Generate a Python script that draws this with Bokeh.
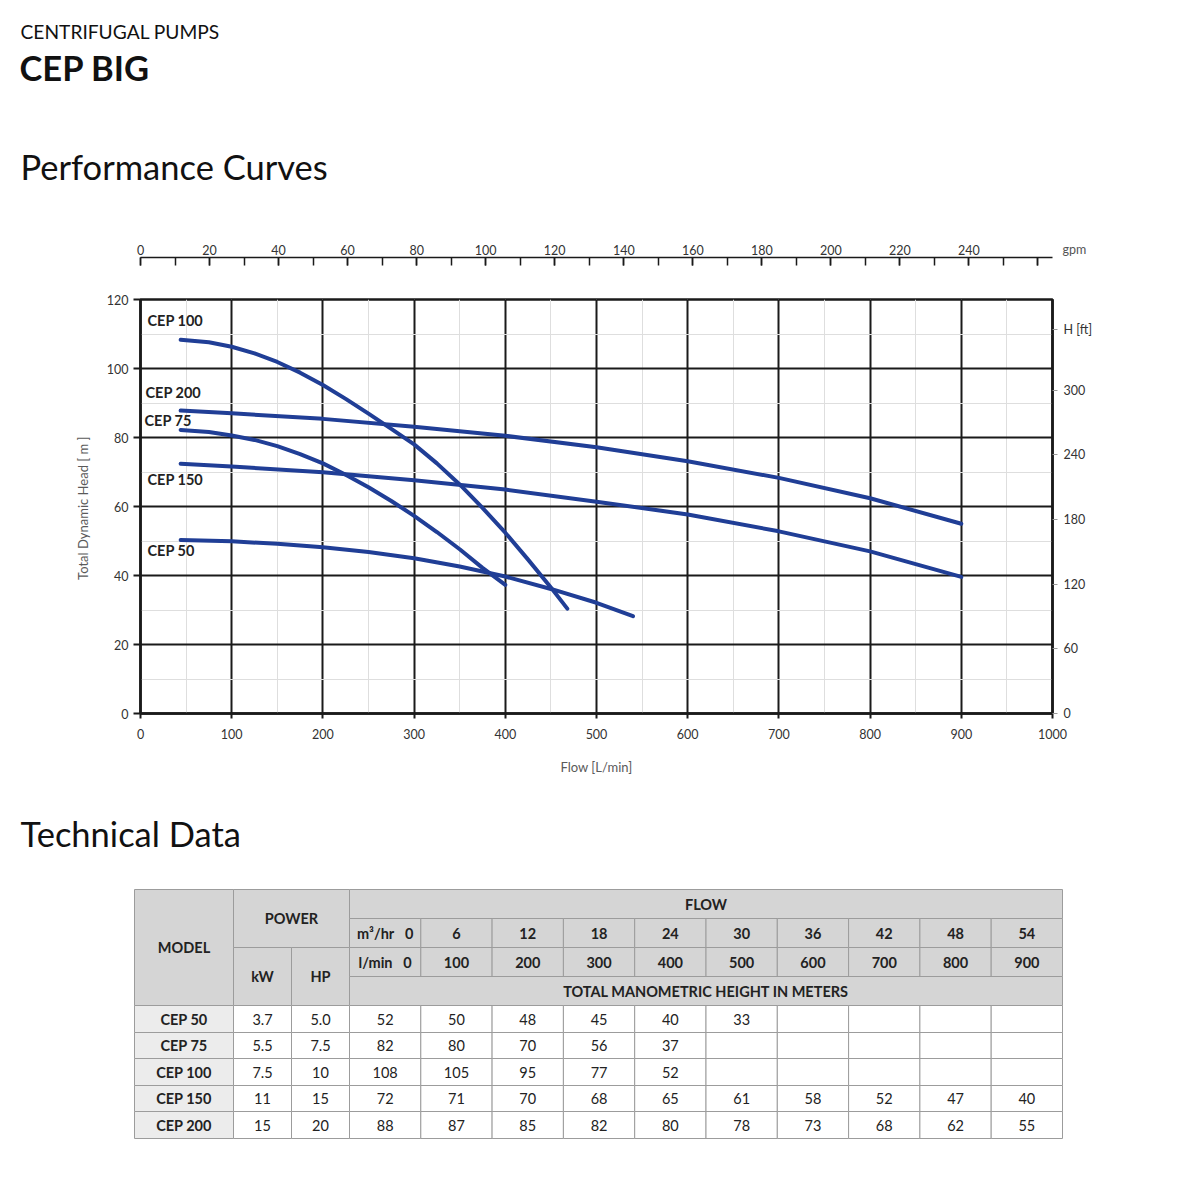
from bokeh.plotting import figure
from bokeh.models import Range1d, LinearAxis, SingleIntervalTicker, FixedTicker
from bokeh.core.properties import value
from bokeh.embed import file_html
from bokeh.resources import INLINE

FONT = "Lato"
BLUE = "#203e96"
DARK = "#1a1a1a"

# ---------------- data ----------------
models = ["CEP 50", "CEP 75", "CEP 100", "CEP 150", "CEP 200"]

cep50_flow = [44, 100, 150, 200, 250, 300, 350, 400, 450, 500, 540]
cep50_head = [50.3, 49.9, 49.2, 48.2, 46.8, 45.0, 42.6, 39.7, 36.1, 32.1, 28.2]

cep75_flow = [44, 75, 100, 125, 150, 175, 200, 225, 250, 275, 300, 325, 350, 375, 400]
cep75_head = [82.2, 81.6, 80.6, 79.3, 77.5, 75.2, 72.5, 69.2, 65.6, 61.6, 57.3, 52.6, 47.6, 42.2, 37.3]

cep100_flow = [44, 75, 100, 125, 150, 175, 200, 225, 250, 275, 300, 325, 350, 375, 400, 425, 450, 468]
cep100_head = [108.3, 107.6, 106.3, 104.4, 101.9, 98.8, 95.2, 91.2, 86.9, 82.5, 78.0, 72.5, 66.4,
               59.6, 52.4, 44.6, 36.5, 30.4]

cep150_flow = [44, 100, 200, 300, 400, 500, 600, 700, 800, 900]
cep150_head = [72.4, 71.6, 69.9, 67.6, 64.9, 61.4, 57.7, 52.8, 47.0, 39.6]

cep200_flow = [44, 100, 200, 300, 400, 500, 600, 700, 800, 900]
cep200_head = [87.8, 87.0, 85.4, 83.1, 80.5, 77.2, 73.1, 68.3, 62.4, 55.0]

curve_label_names = ["CEP 100", "CEP 200", "CEP 75", "CEP 150", "CEP 50"]
curve_label_x = [7.7, 5.5, 4.4, 7.7, 7.7]
curve_label_y = [113.9, 93.0, 84.9, 67.8, 47.2]

L_PER_GAL = 3.785
FT_PER_M = 3.2
ft_ticks = [0, 60, 120, 180, 240, 300]
ft_title_pos = 356

# table data
table_kw = ["3.7", "5.5", "7.5", "11", "15"]
table_hp = ["5.0", "7.5", "10", "15", "20"]
table_m3h = ["m³/hr\u2002 0", "6", "12", "18", "24", "30", "36", "42", "48", "54"]
table_lmin = ["l/min\u2002 0", "100", "200", "300", "400", "500", "600", "700", "800", "900"]
table_heads = [
    ["52", "50", "48", "45", "40", "33", "", "", "", ""],
    ["82", "80", "70", "56", "37", "", "", "", "", ""],
    ["108", "105", "95", "77", "52", "", "", "", "", ""],
    ["72", "71", "70", "68", "65", "61", "58", "52", "47", "40"],
    ["88", "87", "85", "82", "80", "78", "73", "68", "62", "55"],
]

# ---------------- header ----------------
head = figure(width=1200, height=225, x_range=Range1d(0, 1200), y_range=Range1d(225, 0),
              x_axis_type=None, y_axis_type=None, output_backend="svg", toolbar_location=None,
              min_border=0)
head.outline_line_color = None
head.grid.visible = False
head.text(x=[20], y=[31], text=["CENTRIFUGAL PUMPS"], text_font=value(FONT), text_font_size="19.2px",
          text_baseline="middle", text_color="#111111")
head.text(x=[19], y=[67], text=["CEP BIG"], text_font=value(FONT), text_font_size="34.5px",
          text_font_style="bold", text_baseline="middle", text_color="#111111")
head.text(x=[20], y=[166], text=["Performance Curves"], text_font=value(FONT), text_font_size="34.5px",
          text_baseline="middle", text_color="#111111")

# ---------------- gpm axis strip ----------------
GMAX = 1000 / L_PER_GAL
GP_K = GMAX / 912.0
gp = figure(width=1200, height=65, x_range=Range1d(-140 * GP_K, 1060 * GP_K), y_range=Range1d(65, 0),
            x_axis_type=None, y_axis_type=None, output_backend="svg", toolbar_location=None,
            min_border=0)
gp.outline_line_color = None
gp.grid.visible = False
gax = LinearAxis(ticker=SingleIntervalTicker(interval=20, num_minor_ticks=2), fixed_location=32,
                 bounds=(0, GMAX), major_label_overrides={260: ""})
gax.major_tick_in = 8
gax.major_tick_out = 0
gax.minor_tick_in = 8
gax.minor_tick_out = 0
gax.axis_line_color = DARK
gax.axis_line_width = 1.5
gax.major_tick_line_color = DARK
gax.major_tick_line_width = 1.5
gax.minor_tick_line_color = DARK
gax.minor_tick_line_width = 1.5
gax.major_label_standoff = 3
gax.major_label_text_font = FONT
gax.major_label_text_font_size = "12.5px"
gax.major_label_text_color = "#333333"
gp.add_layout(gax, "above")
gp.text(x=[(1062 - 140) * GP_K], y=[24], text=["gpm"], text_font=value(FONT),
        text_font_size="12.5px", text_color="#555555", text_baseline="middle", text_align="left")

# ---------------- main chart ----------------
p = figure(width=1200, height=500, x_range=Range1d(0, 1000), y_range=Range1d(0, 120),
           output_backend="svg", toolbar_location=None,
           min_border_left=140, min_border_right=148, min_border_top=9, min_border_bottom=77)
p.outline_line_color = DARK
p.outline_line_width = 2.5
p.xaxis.ticker = SingleIntervalTicker(interval=100, num_minor_ticks=2)
p.yaxis.ticker = SingleIntervalTicker(interval=20, num_minor_ticks=2)
p.grid.grid_line_color = DARK
p.grid.grid_line_width = 2
p.grid.minor_grid_line_color = "#dedede"
p.grid.minor_grid_line_width = 1

for ax in (p.xaxis[0], p.yaxis[0]):
    ax.axis_line_color = DARK
    ax.axis_line_width = 2.5
    ax.major_tick_line_color = DARK
    ax.major_tick_line_width = 2
    ax.major_tick_in = 0
    ax.minor_tick_line_color = None
    ax.major_label_text_font = FONT
    ax.major_label_text_font_size = "12.5px"
    ax.major_label_text_color = "#333333"
    ax.axis_label_text_font = FONT
    ax.axis_label_text_font_size = "13px"
    ax.axis_label_text_font_style = "normal"
    ax.axis_label_text_color = "#5a5a5a"

p.xaxis.axis_label = "Flow [L/min]"
p.xaxis.major_tick_out = 5
p.xaxis.major_label_standoff = 10
p.xaxis.axis_label_standoff = 17
p.yaxis.axis_label = "Total Dynamic Head  [ m ]"
p.yaxis.major_tick_out = 7
p.yaxis.major_label_standoff = 5
p.yaxis.axis_label_standoff = 13

p.extra_y_ranges = {"ft": Range1d(0, 120 * FT_PER_M)}
rax = LinearAxis(y_range_name="ft", ticker=FixedTicker(ticks=ft_ticks + [ft_title_pos]),
                 major_label_overrides={ft_title_pos: "H [ft]"})
rax.axis_line_color = DARK
rax.axis_line_width = 2.5
rax.major_tick_in = 0
rax.major_tick_out = 5
rax.major_tick_line_color = "#999999"
rax.minor_tick_line_color = None
rax.major_label_standoff = 6
rax.major_label_text_font = FONT
rax.major_label_text_font_size = "12.5px"
rax.major_label_text_color = "#333333"
p.add_layout(rax, "right")

for fx, fy in [(cep50_flow, cep50_head), (cep75_flow, cep75_head), (cep100_flow, cep100_head),
               (cep150_flow, cep150_head), (cep200_flow, cep200_head)]:
    p.line(fx, fy, line_color=BLUE, line_width=4, line_cap="round", line_join="round")

p.text(x=curve_label_x, y=curve_label_y, text=curve_label_names, text_font=value(FONT),
       text_font_size="14.5px", text_font_style="bold", text_baseline="middle",
       text_align="left", text_color="#222222")

# ---------------- table ----------------
tb = figure(width=1200, height=380, x_range=Range1d(0, 1200), y_range=Range1d(1170, 790),
            x_axis_type=None, y_axis_type=None, output_backend="svg", toolbar_location=None,
            min_border=0)
tb.outline_line_color = None
tb.grid.visible = False
tb.text(x=[20], y=[833], text=["Technical Data"], text_font=value(FONT), text_font_size="34.5px",
        text_baseline="middle", text_color="#111111")

HDR = "#d5d5d5"
MOD = "#ececec"
BORDER = "#9c9c9c"
fx0, fx1 = 349, 1062
fw = (fx1 - fx0) / 10
flow_edges = [fx0 + i * fw for i in range(11)]
row_edges = [889, 918, 947, 976, 1005, 1032, 1058, 1085, 1111, 1138]

L, R, T, B, C = [], [], [], [], []
TX, TY, TT = [], [], []  # header (bold) texts
DX, DY, DT = [], [], []  # body texts


def cell(l, r, t, b, color):
    L.append(l); R.append(r); T.append(t); B.append(b); C.append(color)


cell(134, 233, 889, 1005, HDR); TX.append(183.5); TY.append(947); TT.append("MODEL")
cell(233, 349, 889, 947, HDR); TX.append(291); TY.append(918); TT.append("POWER")
cell(233, 291, 947, 1005, HDR); TX.append(262); TY.append(976); TT.append("kW")
cell(291, 349, 947, 1005, HDR); TX.append(320); TY.append(976); TT.append("HP")
cell(fx0, fx1, 889, 918, HDR); TX.append((fx0 + fx1) / 2); TY.append(903.5); TT.append("FLOW")
for i in range(10):
    cx = (flow_edges[i] + flow_edges[i + 1]) / 2
    cell(flow_edges[i], flow_edges[i + 1], 918, 947, HDR)
    TX.append(cx); TY.append(932.5); TT.append(table_m3h[i])
    cell(flow_edges[i], flow_edges[i + 1], 947, 976, HDR)
    TX.append(cx); TY.append(961.5); TT.append(table_lmin[i])
cell(fx0, fx1, 976, 1005, HDR); TX.append((fx0 + fx1) / 2); TY.append(990.5)
TT.append("TOTAL MANOMETRIC HEIGHT IN METERS")

for r, name in enumerate(models):
    t, b = row_edges[4 + r], row_edges[5 + r]
    cy = (t + b) / 2
    cell(134, 233, t, b, MOD); TX.append(183.5); TY.append(cy); TT.append(name)
    cell(233, 291, t, b, "white"); DX.append(262); DY.append(cy); DT.append(table_kw[r])
    cell(291, 349, t, b, "white"); DX.append(320); DY.append(cy); DT.append(table_hp[r])
    for i in range(10):
        cell(flow_edges[i], flow_edges[i + 1], t, b, "white")
        DX.append((flow_edges[i] + flow_edges[i + 1]) / 2); DY.append(cy); DT.append(table_heads[r][i])

tb.quad(left=L, right=R, top=T, bottom=B, fill_color=C, line_color=BORDER, line_width=1)
tb.text(x=TX, y=TY, text=TT, text_font=value(FONT), text_font_size="14.5px", text_font_style="bold",
        text_align="center", text_baseline="middle", text_color="#222222")
tb.text(x=DX, y=DY, text=DT, text_font=value(FONT), text_font_size="14.5px",
        text_align="center", text_baseline="middle", text_color="#222222")

open("out.html", "w").write(file_html([head, gp, p, tb], INLINE))
